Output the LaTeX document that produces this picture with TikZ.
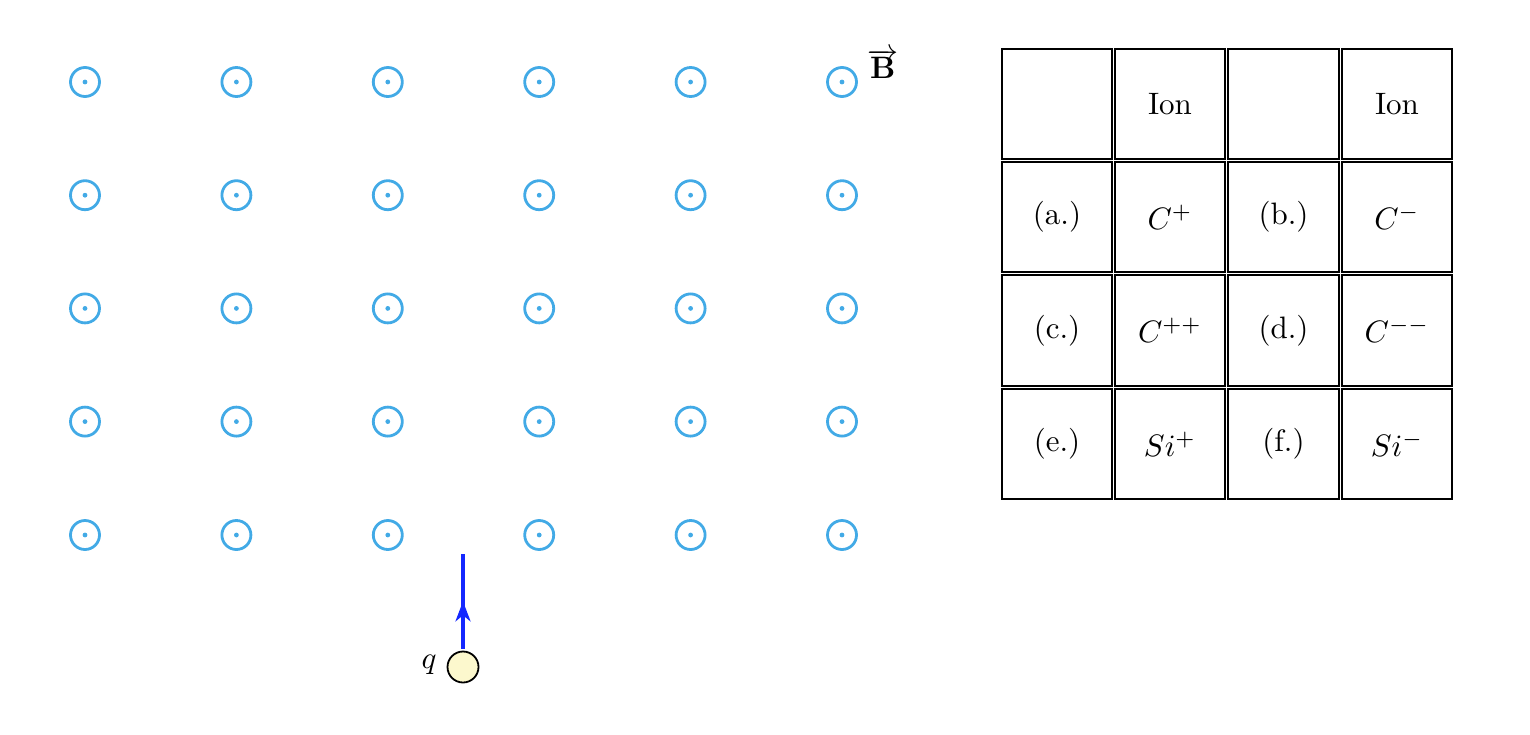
\documentclass[tikz,border=0pt]{standalone}
\usepackage{graphicx}
\usetikzlibrary{decorations.markings,arrows.meta}
\definecolor{fieldc}{RGB}{66,170,230}
\definecolor{chargec}{RGB}{252,248,205}
\definecolor{velc}{RGB}{20,40,255}
\newcommand{\bigtxt}[1]{\scalebox{3.1}{#1}}
\begin{document}
\begin{tikzpicture}[x=1pt,y=-1pt,
  fieldring/.style={draw=fieldc,line width=2.8pt,circle,minimum size=29pt,inner sep=0pt},
  cellbox/.style={draw,line width=2pt,minimum size=110.5pt,inner sep=0pt},
  ]
\useasboundingbox (0,0) rectangle (1530,734);
\foreach \i/\x in {1/85,2/236.4,3/387.8,4/539.2,5/690.6,6/842}{
  \foreach \j/\y in {1/82,2/195.2,3/308.4,4/421.6,5/535}{
    \node[fieldring] (f\i\j) at (\x,\y) {};
    \fill[fieldc] (f\i\j.center) circle (2.4);
  }}
\node[anchor=west,inner sep=0pt] (B) at (867,64) {\bigtxt{$\overrightarrow{\mathbf{B}}$}};
\node[circle,draw,line width=1.8pt,fill=chargec,minimum size=31pt,inner sep=0pt] (q) at (463,667) {};
\node (ql) at (429,665) {\bigtxt{$q$}};
\coordinate (vtop) at (463,554);
\draw[velc,line width=3.5pt,decoration={markings,mark=at position 0.5 with {\arrow{Stealth[length=20pt,width=15pt,inset=6pt]}}},postaction=decorate] (q.north) ++(0,-2) -- (vtop);
\foreach \c/\x in {1/1057,2/1170,3/1283.5,4/1397}{
  \foreach \r/\y in {1/104,2/217,3/330.5,4/444}{
    \node[cellbox] (c\c\r) at (\x,\y) {};
  }}
\node at (c21) {\bigtxt{Ion}};
\node at (c41) {\bigtxt{Ion}};
\node at (c12) {\bigtxt{(a.)}};
\node at (c22) {\bigtxt{$C^{+}$}};
\node at (c32) {\bigtxt{(b.)}};
\node at (c42) {\bigtxt{$C^{-}$}};
\node at (c13) {\bigtxt{(c.)}};
\node at (c23) {\bigtxt{$C^{++}$}};
\node at (c33) {\bigtxt{(d.)}};
\node at (c43) {\bigtxt{$C^{--}$}};
\node at (c14) {\bigtxt{(e.)}};
\node at (c24) {\bigtxt{$Si^{+}$}};
\node at (c34) {\bigtxt{(f.)}};
\node at (c44) {\bigtxt{$Si^{-}$}};
\end{tikzpicture}
\end{document}
